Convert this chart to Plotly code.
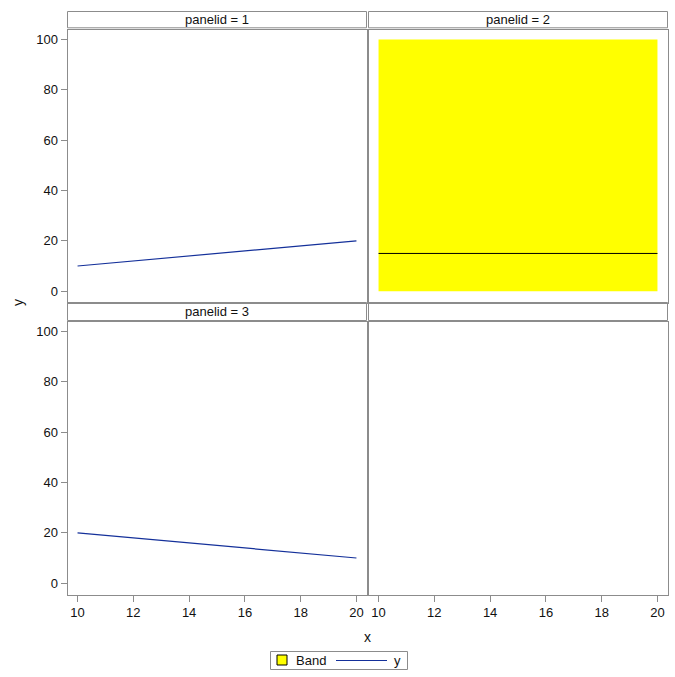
import plotly.graph_objects as go

# ---- data ----
x_vals = [10, 20]
y_panel1 = [10, 20]
y_panel3 = [20, 10]
band_lower = [0, 0]
band_upper = [100, 100]
ref_line_y = [15, 15]
panel_labels = ["panelid = 1", "panelid = 2", "panelid = 3", ""]
x_ticks = [10, 12, 14, 16, 18, 20]
y_ticks = [0, 20, 40, 60, 80, 100]
legend_names = ["Band", "y"]

W, H = 675, 677
def px(v): return v / W
def py(v): return 1 - v / H

FONT = "Liberation Sans"
GRAY = "#8c8c8c"
BLUE = "#14309a"
TXT = "#111"

# panel pixel geometry
cols = [(67.5, 366.5), (368.5, 667.5)]
rows = [(29.5, 302.5), (321.5, 594.5)]
headers = [(11.5, 27.8), (302.5, 320.5)]

fig = go.Figure()

# panel 2 band
fig.add_trace(go.Scatter(x=x_vals + x_vals[::-1], y=band_upper + band_lower[::-1],
                         fill="toself", fillcolor="yellow", mode="lines",
                         line=dict(width=0, color="yellow"), name=legend_names[0],
                         showlegend=False, hoverinfo="skip", xaxis="x2", yaxis="y2"))
fig.add_trace(go.Scatter(x=x_vals, y=ref_line_y, mode="lines",
                         line=dict(color="black", width=1), showlegend=False,
                         xaxis="x2", yaxis="y2"))

# panel 1 line
fig.add_trace(go.Scatter(x=x_vals, y=y_panel1, mode="lines", name=legend_names[1],
                         line=dict(color=BLUE, width=1.2), showlegend=False,
                         xaxis="x", yaxis="y"))
# panel 3 line
fig.add_trace(go.Scatter(x=x_vals, y=y_panel3, mode="lines", name=legend_names[1],
                         line=dict(color=BLUE, width=1.2), showlegend=False,
                         xaxis="x3", yaxis="y3"))
# empty panel 4 (keeps its axes drawn)
fig.add_trace(go.Scatter(x=[None], y=[None], mode="lines", showlegend=False,
                         xaxis="x4", yaxis="y4"))

xr = [9.64, 20.36]
yr = [-4.5, 104.0]

axis_common = dict(showline=True, mirror=True, linecolor=GRAY, linewidth=1,
                   showgrid=False, zeroline=False, fixedrange=True,
                   tickfont=dict(family=FONT, size=13, color=TXT))

layout_axes = {}
names = ["", "2", "3", "4"]
for i, n in enumerate(names):
    r, c = divmod(i, 2)
    xa = dict(axis_common, domain=[px(cols[c][0]), px(cols[c][1])], range=xr,
              anchor="y" + n)
    ya = dict(axis_common, domain=[py(rows[r][1]), py(rows[r][0])], range=yr,
              anchor="x" + n)
    if r == 1:
        xa.update(tickvals=x_ticks, ticks="outside", ticklen=6, tickcolor=GRAY,
                  showticklabels=True)
    else:
        xa.update(tickvals=[], ticks="", showticklabels=False)
    if c == 0:
        ya.update(tickvals=y_ticks, ticks="outside", ticklen=6, tickcolor=GRAY,
                  showticklabels=True)
    else:
        ya.update(tickvals=[], ticks="", showticklabels=False)
    layout_axes["xaxis" + n] = xa
    layout_axes["yaxis" + n] = ya

shapes = []
annotations = []
for i, lab in enumerate(panel_labels):
    r, c = divmod(i, 2)
    x0, x1 = cols[c]
    h0, h1 = headers[r]
    shapes.append(dict(type="rect", xref="paper", yref="paper",
                       x0=px(x0), x1=px(x1), y0=py(h1), y1=py(h0),
                       line=dict(color=GRAY, width=1), fillcolor="rgba(0,0,0,0)"))
    if lab:
        annotations.append(dict(text=lab, xref="paper", yref="paper",
                                x=px((x0 + x1) / 2), y=py((h0 + h1) / 2),
                                xanchor="center", yanchor="middle", showarrow=False,
                                font=dict(family=FONT, size=13, color=TXT)))

annotations.append(dict(text="y", xref="paper", yref="paper", x=px(18), y=py(303),
                        textangle=-90, showarrow=False, xanchor="center", yanchor="middle",
                        font=dict(family=FONT, size=14, color=TXT)))
annotations.append(dict(text="x", xref="paper", yref="paper", x=px(367), y=py(637),
                        showarrow=False, xanchor="center", yanchor="middle",
                        font=dict(family=FONT, size=14, color=TXT)))

# legend box (drawn)
shapes.append(dict(type="rect", xref="paper", yref="paper", x0=px(270.5), x1=px(407.5),
                   y0=py(669.5), y1=py(651.5), line=dict(color=GRAY, width=1)))
shapes.append(dict(type="rect", xref="paper", yref="paper", x0=px(277), x1=px(287),
                   y0=py(665), y1=py(655), fillcolor="yellow",
                   line=dict(color="black", width=1)))
shapes.append(dict(type="line", xref="paper", yref="paper", x0=px(336), x1=px(387),
                   y0=py(660.5), y1=py(660.5), line=dict(color=BLUE, width=1.2)))
annotations.append(dict(text=legend_names[0], xref="paper", yref="paper", x=px(294), y=py(660.5),
                        xanchor="left", yanchor="middle", showarrow=False,
                        font=dict(family=FONT, size=13, color=TXT)))
annotations.append(dict(text=legend_names[1], xref="paper", yref="paper", x=px(392), y=py(660.5),
                        xanchor="left", yanchor="middle", showarrow=False,
                        font=dict(family=FONT, size=13, color=TXT)))

fig.update_layout(
    width=W, height=H, margin=dict(l=0, r=0, t=0, b=0),
    paper_bgcolor="white", plot_bgcolor="white",
    shapes=shapes, annotations=annotations, showlegend=False,
    **layout_axes,
)

fig.write_html("out.html", config={"displayModeBar": False},
               post_script="document.body.style.margin='0';")
